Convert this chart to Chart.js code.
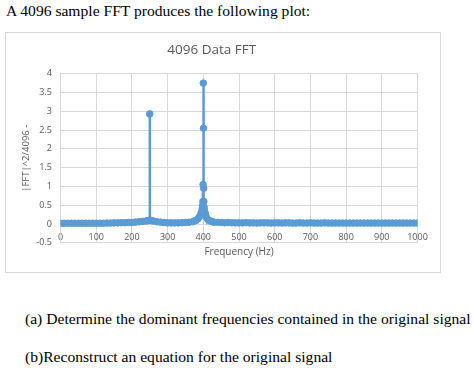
<!DOCTYPE html>
<html>
<head>
<meta charset="utf-8">
<script src="https://cdn.jsdelivr.net/npm/chart.js@4/dist/chart.umd.min.js"></script>
<style>
    body { margin: 0; width: 474px; height: 385px; background: #fff; position: relative; overflow: hidden; }
    .txt { position: absolute; margin: 0; font-family: "Liberation Serif", serif; font-size: 15.6px; line-height: 16px; color: #000; white-space: nowrap; }
    #box { position: absolute; left: 5px; top: 32px; width: 434px; height: 239px; border: 1px solid #d9d9d9; }
</style>
</head>
<body>
<p class="txt" style="left:6px; top:3px;">A 4096 sample FFT produces the following plot:</p>
<div id="box"><canvas id="fft"></canvas></div>
<p class="txt" style="left:25px; top:311px;">(a) Determine the dominant frequencies contained in the original signal</p>
<p class="txt" style="left:25px; top:349px;">(b)Reconstruct an equation for the original signal</p>

<script>
// 読み取った値 (Hz と |FFT|^2/4096)
const freqs = [
    0, 10, 20, 30, 40, 50, 60, 70, 80, 90,
    100, 110, 120, 130, 140, 150, 160, 170, 180, 190,
    200, 210, 220, 230, 240, 245, 249.5, 250, 250.5, 255,
    260, 270, 280, 290, 300, 310, 320, 330, 340, 350,
    360, 370, 375, 380, 385, 390, 393, 395, 397, 398,
    398.5, 399, 399.5, 400, 400.5, 401, 401.5, 402, 403, 405,
    407, 410, 415, 420, 425, 430, 440, 450, 460, 470,
    480, 490, 500, 510, 520, 530, 540, 550, 560, 570,
    580, 590, 600, 610, 620, 630, 640, 650, 660, 670,
    680, 690, 700, 710, 720, 730, 740, 750, 760, 770,
    780, 790, 800, 810, 820, 830, 840, 850, 860, 870,
    880, 890, 900, 910, 920, 930, 940, 950, 960, 970,
    980, 990, 1000
];
const power = [
    0.02, 0.02, 0.02, 0.02, 0.02, 0.02, 0.02, 0.02, 0.02, 0.02,
    0.02, 0.02, 0.02, 0.025, 0.025, 0.03, 0.03, 0.035, 0.035, 0.04,
    0.04, 0.05, 0.06, 0.07, 0.08, 0.09, 0.1, 2.93, 0.1, 0.09,
    0.08, 0.06, 0.05, 0.04, 0.03, 0.03, 0.03, 0.03, 0.035, 0.04,
    0.045, 0.06, 0.08, 0.1, 0.14, 0.2, 0.26, 0.32, 0.4, 0.45,
    0.5, 0.6, 1.05, 3.75, 2.55, 0.95, 0.6, 0.45, 0.38, 0.3,
    0.22, 0.15, 0.1, 0.08, 0.06, 0.05, 0.045, 0.04, 0.035, 0.04,
    0.035, 0.03, 0.03, 0.03, 0.035, 0.03, 0.03, 0.025, 0.03, 0.03,
    0.03, 0.025, 0.03, 0.03, 0.025, 0.03, 0.03, 0.025, 0.025, 0.03,
    0.025, 0.025, 0.03, 0.025, 0.025, 0.025, 0.03, 0.025, 0.025, 0.025,
    0.025, 0.025, 0.025, 0.025, 0.025, 0.025, 0.025, 0.025, 0.025, 0.025,
    0.025, 0.025, 0.025, 0.025, 0.025, 0.025, 0.025, 0.025, 0.025, 0.025,
    0.025, 0.025, 0.025
];

const xMin = 0, xMax = 1000, xStep = 100;
const yMin = -0.5, yMax = 4, yStep = 0.5;

const chartTitle = '4096 Data FFT';
const xTitle = 'Frequency (Hz)';
const yTitle = '|FFT|^2/4096 -';

const blue = '#5b9bd5';
const gridColor = '#d9d9d9';
const textColor = '#595959';

const points = freqs.map((f, i) => ({ x: f, y: power[i] }));

Chart.defaults.font.family = '"Open Sans", sans-serif';
Chart.defaults.color = textColor;

const ctx = document.getElementById('fft');
const fftChart = new Chart(ctx, {
    type: 'scatter',
    data: {
        datasets: [{
            data: points,
            showLine: true,
            borderColor: blue,
            backgroundColor: blue,
            borderWidth: 2.5,
            pointRadius: 3.3,
            pointBorderWidth: 1,
        }]
    },
    options: {
        responsive: true,
        maintainAspectRatio: false,
        animation: false,
        layout: {
            padding: { left: 0, top: 0, right: 22.5, bottom: 29.2 }
        },
        plugins: {
            legend: { display: false },
            tooltip: { enabled: false },
            title: {
                display: true,
                text: chartTitle,
                color: textColor,
                font: { size: 13.5, weight: 'normal' },
                padding: { top: 9, bottom: 15.5 }
            }
        },
        scales: {
            x: {
                type: 'linear',
                position: { y: 0 },
                min: xMin,
                max: xMax,
                ticks: {
                    stepSize: xStep,
                    padding: 7.6,
                    font: { size: 9 },
                    color: textColor,
                    callback: (v) => String(v)
                },
                grid: { color: gridColor, drawTicks: false },
                border: { color: gridColor },
                title: {
                    display: true,
                    text: xTitle,
                    color: textColor,
                    font: { size: 10 },
                    padding: { top: -4.3, bottom: 0 }
                }
            },
            y: {
                min: yMin,
                max: yMax,
                afterFit: (s) => { s.width = 54.5; },
                ticks: {
                    stepSize: yStep,
                    padding: 8.5,
                    font: { size: 9 },
                    color: textColor,
                    callback: (v) => String(v)
                },
                grid: { color: gridColor, drawTicks: false },
                border: { color: gridColor },
                title: {
                    display: true,
                    text: yTitle,
                    color: textColor,
                    font: { size: 9.5 },
                    padding: { top: 14.3, bottom: 0 }
                }
            }
        }
    }
});
</script>
</body>
</html>
